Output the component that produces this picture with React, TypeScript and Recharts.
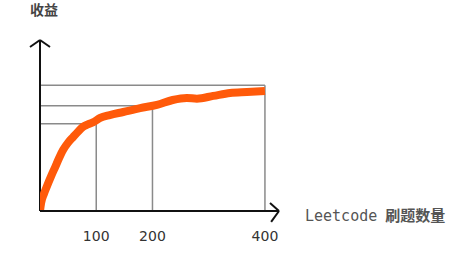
import { LineChart, Line, XAxis, YAxis, ReferenceLine } from "recharts";

// curve (x = problems solved, y = gain 0..100)
const solved = [0, 2, 7, 12, 20, 27, 34, 41, 50, 59, 68, 76, 85, 94, 107, 124, 148, 178, 208, 236, 261, 279, 308, 338, 368, 400];
const gain = [0, 4.7, 10, 14.2, 20.5, 25.7, 31, 35.7, 40, 43.3, 46.5, 49.1, 50.6, 51.8, 54.4, 56.1, 57.9, 60.2, 62, 64.9, 66.1, 65.7, 67.3, 69, 69.6, 70.2];

// guide lines down to the axes
const guideX = [100, 200, 400];
const guideY = [51, 61.5, 73.5];
const xTicks = [100, 200, 400];

const data = solved.map((x, i) => ({ x, y: gain[i] }));

const GUIDE = "#8a8a8a";
const AXIS = "#111";

const App = () => {
  return (
    <div style={{ position: "absolute", left: 0, top: 0, width: 474, height: 253, background: "#fff" }}>
      <LineChart
        width={474}
        height={253}
        data={data}
        margin={{ top: 40, right: 195, bottom: 0, left: 40 }}
      >
        <XAxis
          dataKey="x"
          type="number"
          domain={[0, 425]}
          allowDataOverflow
          ticks={xTicks}
          tickLine={false}
          tickMargin={14}
          height={42}
          axisLine={{ stroke: AXIS, strokeWidth: 2 }}
          tick={{ fill: "#333", fontSize: 14, fontFamily: "DejaVu Sans" }}
        />
        <YAxis type="number" domain={[0, 100]} hide />
        {guideX.map((gx, i) => (
          <ReferenceLine
            key={"h" + gx}
            segment={[{ x: 0, y: guideY[i] }, { x: gx, y: guideY[i] }]}
            stroke={GUIDE}
            strokeWidth={1.5}
          />
        ))}
        {guideX.map((gx, i) => (
          <ReferenceLine
            key={"v" + gx}
            segment={[{ x: gx, y: 0 }, { x: gx, y: guideY[i] }]}
            stroke={GUIDE}
            strokeWidth={1.5}
          />
        ))}
        {/* y axis with arrow head */}
        <ReferenceLine segment={[{ x: 0, y: 0 }, { x: 0, y: 100 }]} stroke={AXIS} strokeWidth={2} ifOverflow="visible" />
        <ReferenceLine segment={[{ x: -17.8, y: 95.9 }, { x: 0, y: 100 }]} stroke={AXIS} strokeWidth={2} ifOverflow="visible" />
        <ReferenceLine segment={[{ x: 17.8, y: 95.9 }, { x: 0, y: 100 }]} stroke={AXIS} strokeWidth={2} ifOverflow="visible" />
        {/* x axis arrow head */}
        <ReferenceLine segment={[{ x: 409, y: 4.7 }, { x: 425, y: 0 }]} stroke={AXIS} strokeWidth={2} ifOverflow="visible" />
        <ReferenceLine segment={[{ x: 411, y: -6.4 }, { x: 425, y: 0 }]} stroke={AXIS} strokeWidth={2} ifOverflow="visible" />
        <Line
          type="monotone"
          dataKey="y"
          stroke="#ff5a0a"
          strokeWidth={8}
          strokeLinejoin="round"
          dot={false}
          isAnimationActive={false}
        />
      </LineChart>
      <span
        style={{
          position: "absolute",
          left: 30,
          top: 1,
          fontSize: 14,
          lineHeight: "16px",
          fontWeight: 700,
          color: "#444",
          fontFamily: "Noto Sans CJK SC",
        }}
      >
        收益
      </span>
      <span
        style={{
          position: "absolute",
          left: 305,
          top: 204,
          fontSize: 15,
          color: "#555",
          whiteSpace: "nowrap",
        }}
      >
        <span style={{ fontFamily: "DejaVu Sans Mono" }}>Leetcode</span>
        <span style={{ fontFamily: "Noto Sans CJK SC", fontWeight: 700, marginLeft: 8 }}>刷题数量</span>
      </span>
    </div>
  );
};

export default App;
